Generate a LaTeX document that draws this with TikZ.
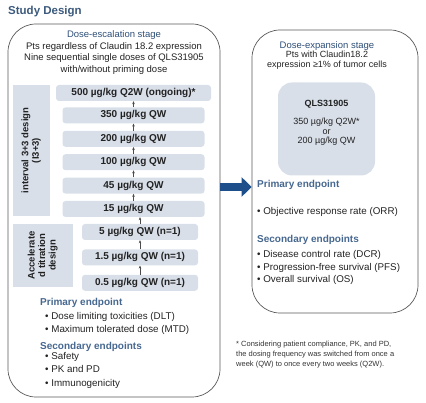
\documentclass[tikz,border=0pt]{standalone}
\usepackage{fontspec}
\setmainfont{Liberation Sans}
\usepackage{graphicx}
\usetikzlibrary{positioning,arrows.meta}
\definecolor{titleblue}{HTML}{3C5A7D}
\definecolor{headblue}{HTML}{2F4F78}
\definecolor{epblue}{HTML}{46678F}
\definecolor{boxfill}{HTML}{D8DFE9}
\definecolor{arrowblue}{HTML}{1F4F8A}
\definecolor{textgray}{HTML}{222222}
\newcommand{\uptext}[1]{\rotatebox{90}{\begin{tabular}{@{}c@{}}#1\end{tabular}}}

\begin{document}
\begin{tikzpicture}[x=1pt, y=-1pt,
    node distance=7pt,
    stage/.style={rectangle, draw=black!65, line width=0.7pt, rounded corners=28pt},
    dose/.style={rectangle, fill=boxfill, rounded corners=3pt, minimum width=142pt, minimum height=16pt, inner sep=0pt, text=textgray, font=\bfseries\fontsize{10}{11}\selectfont},
    design/.style={rectangle, fill=boxfill, inner sep=0pt, text=textgray, font=\bfseries\fontsize{9.5}{10.5}\selectfont},
    head/.style={anchor=west, inner sep=0pt, text=epblue, font=\bfseries\fontsize{10}{12}\selectfont},
    items/.style={anchor=north west, inner sep=0pt, align=left, text=textgray, font=\fontsize{9.8}{12.5}\selectfont},
    arrow/.style={-{Stealth[length=3pt,width=2.5pt]}, draw=black!70, line width=0.4pt},
    bigarrow/.style={-{Triangle[length=10pt,width=19pt]}, draw=arrowblue, line width=8pt}
]
    \useasboundingbox (0,0) rectangle (426,403);
    \node[anchor=west, inner sep=0pt, text=titleblue, font=\bfseries\fontsize{11.5}{13}\selectfont] (title) at (8,12) {Study Design};

    % two stages
    \node[stage, minimum width=212pt, minimum height=373pt] (esc) at (114,210.5) {};
    \node[stage, minimum width=166pt, minimum height=283pt] (exp) at (335,171.5) {};

    \node[align=center, inner sep=0pt, text=textgray, font=\fontsize{9.5}{11.7}\selectfont] (escinfo) at (114,52.5)
        {\textcolor{headblue}{Dose-escalation stage}\\Pts regardless of Claudin 18.2 expression\\Nine sequential single doses of QLS31905\\with/without priming dose};

    % dose levels
    \node[design, minimum width=37pt, minimum height=131pt] (interval) at (31.5,150.5) {\uptext{interval 3+3 design\\(I3+3)}};
    \node[dose, minimum width=155pt] (d500) at (133.5,93) {500 µg/kg Q2W (ongoing)*};
    \node[dose, below=6pt of d500] (d350) {350 µg/kg QW};
    \node[dose, below=of d350] (d200) {200 µg/kg QW};
    \node[dose, below=of d200] (d100) {100 µg/kg QW};
    \node[dose, below=of d100] (d45) {45 µg/kg QW};
    \node[dose, below=of d45] (d15) {15 µg/kg QW};

    \node[design, minimum width=60pt, minimum height=63pt] (accel) at (43,255.5) {\uptext{Accelerate\\d titration\\design}};
    \node[dose, minimum width=116pt] (d5) at (140,232) {5 µg/kg QW (n=1)};
    \node[dose, minimum width=116pt, below=9pt of d5] (d1p5) {1.5 µg/kg QW (n=1)};
    \node[dose, minimum width=116pt, below=9pt of d1p5] (d0p5) {0.5 µg/kg QW (n=1)};

    \draw[arrow] (d0p5) -- (d1p5);
    \draw[arrow] (d1p5) -- (d5);
    \draw[arrow] (d5.north) -- (d5.north |- d15.south);
    \draw[arrow] (d15) -- (d45);
    \draw[arrow] (d45) -- (d100);
    \draw[arrow] (d100) -- (d200);
    \draw[arrow] (d200) -- (d350);
    \draw[arrow] (d350) -- (d500);

    % endpoints, escalation
    \node[head] (prim1) at (40,303) {Primary endpoint};
    \node[items] (prim1list) at (45,312.5) {• Dose limiting toxicities (DLT)\\• Maximum tolerated dose (MTD)};
    \node[head] (sec1) at (40,347) {Secondary endpoints};
    \node[items, font=\fontsize{9.8}{13.5}\selectfont] (sec1list) at (45,352) {• Safety\\• PK and PD\\• Immunogenicity};

    % expansion
    \node[align=center, inner sep=0pt, text=textgray, font=\fontsize{9}{9.5}\selectfont] (expinfo) at (327,55)
        {\textcolor{headblue}{\fontsize{9.5}{9.5}\selectfont Dose-expansion stage}\\Pts with Claudin18.2\\expression ≥1\% of tumor cells};
    \node[rectangle, fill=boxfill, rounded corners=14pt, minimum width=97pt, minimum height=93pt] (drug) at (326.5,129) {};
    \node[align=center, inner sep=0pt, text=textgray, font=\fontsize{9}{9.5}\selectfont] (drugtxt) at (326.5,123)
        {\textbf{QLS31905}\\[9pt]350 µg/kg Q2W*\\or\\200 µg/kg QW};

    \node[head] (prim2) at (257,185) {Primary endpoint};
    \node[items] (prim2list) at (257,207.5) {• Objective response rate (ORR)};
    \node[head] (sec2) at (257,240) {Secondary endpoints};
    \node[items] (sec2list) at (257,250.5) {• Disease control rate (DCR)\\• Progression-free survival (PFS)\\• Overall survival (OS)};

    \coordinate (arr) at (0,187);
    \draw[bigarrow] (esc.east |- arr) -- (exp.west |- arr);

    \node[anchor=north west, inner sep=0pt, align=left, text=black!80, font=\fontsize{7.5}{10}\selectfont] (note) at (236,341)
        {* Considering patient compliance, PK, and PD,\\the dosing frequency was switched from once a\\week (QW) to once every two weeks (Q2W).};
\end{tikzpicture}
\end{document}
